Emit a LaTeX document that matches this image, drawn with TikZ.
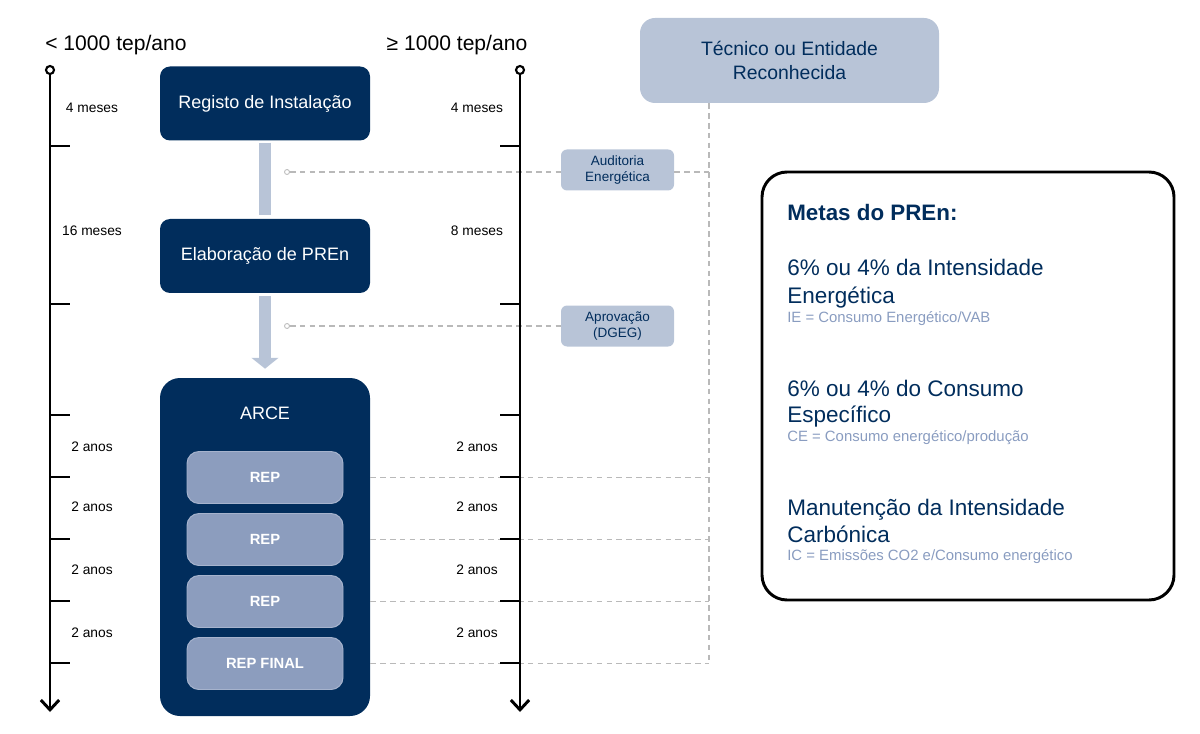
\documentclass[tikz,border=0pt]{standalone}
\usepackage{fontspec}
\setmainfont{Liberation Sans}
\usetikzlibrary{arrows.meta}
\definecolor{navy}{RGB}{1,45,92}
\definecolor{lite}{RGB}{184,196,215}
\definecolor{repc}{RGB}{140,157,190}
\definecolor{repl}{RGB}{166,179,205}
\definecolor{subc}{RGB}{137,156,192}
\definecolor{dgray}{RGB}{185,185,185}
\newdimen\pxu \pxu=0.025cm
\begin{document}
\begin{tikzpicture}[x=0.025cm,y=-0.025cm]
	\useasboundingbox (0,0) rectangle (1200,734);
	\tikzset{
	tl/.style={line width=2.1pt},
	navybox/.style={fill=navy,text=white,rounded corners=10\pxu,minimum width=210\pxu,minimum height=74\pxu,inner sep=0pt,font=\fontsize{12.8}{15}\selectfont},
	repbox/.style={fill=repc,draw=repl,line width=0.7pt,rounded corners=12\pxu,minimum width=156\pxu,minimum height=52\pxu,text=white,font=\bfseries\fontsize{10.5}{12}\selectfont},
	litebox/.style={fill=lite,text=navy,rounded corners=6\pxu,minimum width=113\pxu,minimum height=41\pxu,inner sep=0pt,align=center,font=\fontsize{9.6}{12}\selectfont},
	dsh/.style={draw=dgray,line width=1.4pt,dash pattern=on 4pt off 3pt},
	blk/.style={draw=lite,line width=12\pxu},
	lbl/.style={font=\fontsize{9.8}{12}\selectfont},
	dot/.style={circle,draw=dgray,fill=white,inner sep=0pt,minimum size=5\pxu,line width=0.6pt},
	ring/.style={circle,draw,fill=white,inner sep=0pt,minimum size=8\pxu,line width=1.5pt},
	mtxt/.style={anchor=base west,inner sep=0pt,text=navy,font=\fontsize{16}{19}\selectfont},
	msub/.style={anchor=base west,inner sep=0pt,text=subc,font=\fontsize{10.6}{13}\selectfont},
	}
	\path(116,51)node[anchor=base,font=\fontsize{15}{18}\selectfont](hl){< 1000 tep/ano}
	(457,51)node[anchor=base,font=\fontsize{15}{18}\selectfont](hr){≥ 1000 tep/ano};
	\node[navybox](reg)at(265,103.5){Registo de Instalação};
	\node[navybox](ela)at(265,256){Elaboração de PREn};
	\node[navybox,minimum height=338\pxu,rounded corners=20\pxu](arce)at(265,547){};
	\node[text=white,font=\fontsize{12.8}{15}\selectfont](arcet)at(265,413){ARCE};
	\foreach \y/\t [count=\i] in {477.5/REP,539.5/REP,601.5/REP,663.5/REP FINAL}
	\node[repbox](r\i)at(265,\y){\t};
	\draw[blk,shorten <=1.4pt,shorten >=2.8pt](reg)--(ela);
	\draw[blk,-{Triangle[length=7.8pt,width=19pt]},shorten <=2.1pt,shorten >=6.4pt](ela)--(arce);
	\node[fill=lite,text=navy,rounded corners=15\pxu,minimum width=299\pxu,minimum height=85\pxu,align=center,font=\fontsize{13.8}{17}\selectfont](tec)at(789.5,60.5){Técnico ou Entidade\\Reconhecida};
	\node[litebox](aud)at(617.5,170){Auditoria\\Energética};
	\node[litebox](apr)at(617.5,326){Aprovação\\(DGEG)};
	\node[dot](d1)at(287,172){};
	\node[dot](d2)at(287,326){};
	\coordinate(v)at(709,663);
	\draw[dsh](d1)--(d1-|aud.west) (aud.east|-d1)--(d1-|v);
	\draw[dsh](d2)--(d2-|apr.west);
	\draw[dsh](v|-tec.south)--(v);
	\foreach \i in{1,...,4}
	\draw[dsh](arce.east|-r\i)--(v|-r\i);
	\node[ring](L0)at(50,70){};\coordinate(L1)at(50,712);
	\node[ring](R0)at(520,70){};\coordinate(R1)at(520,712);
	\draw[tl,-{Straight Barb[length=7pt,width=13pt]}](L0)--(L1);
	\draw[tl,-{Straight Barb[length=7pt,width=13pt]}](R0)--(R1);
	\foreach \y in{146,304,415,477,539,601,663}{
	\draw[tl](L0|-0,\y)--++(20,0);
	\draw[tl](R0|-0,\y)--++(-20,0);
	}
	\foreach \y/\t [count=\i] in {108/4 meses,231/16 meses,447/2 anos,507/2 anos,570/2 anos,633/2 anos}
	\node[lbl](ll\i)at(92,\y){\t};
	\foreach \y/\t [count=\i] in {108/4 meses,231/8 meses,447/2 anos,507/2 anos,570/2 anos,633/2 anos}
	\node[lbl](lr\i)at(477,\y){\t};
	\draw[line width=2.1pt,rounded corners=25\pxu](762,172)rectangle(1174,600);
	\node[anchor=base west,inner sep=0pt,text=navy,font=\bfseries\fontsize{15.9}{19}\selectfont](mt)at(787,221){Metas do PREn:};
	\node[mtxt](g1a)at(787,276){6\% ou 4\% da Intensidade};
	\node[mtxt](g1b)at(787,303){Energética};
	\node[msub](g1c)at(787,322){IE = Consumo Energético/VAB};
	\node[mtxt](g2a)at(787,396){6\% ou 4\% do Consumo};
	\node[mtxt](g2b)at(787,422){Específico};
	\node[msub](g2c)at(787,441){CE = Consumo energético/produção};
	\node[mtxt](g3a)at(787,515){Manutenção da Intensidade};
	\node[mtxt](g3b)at(787,542){Carbónica};
	\node[msub](g3c)at(787,560){IC = Emissões CO2 e/Consumo energético};
\end{tikzpicture}
\end{document}
